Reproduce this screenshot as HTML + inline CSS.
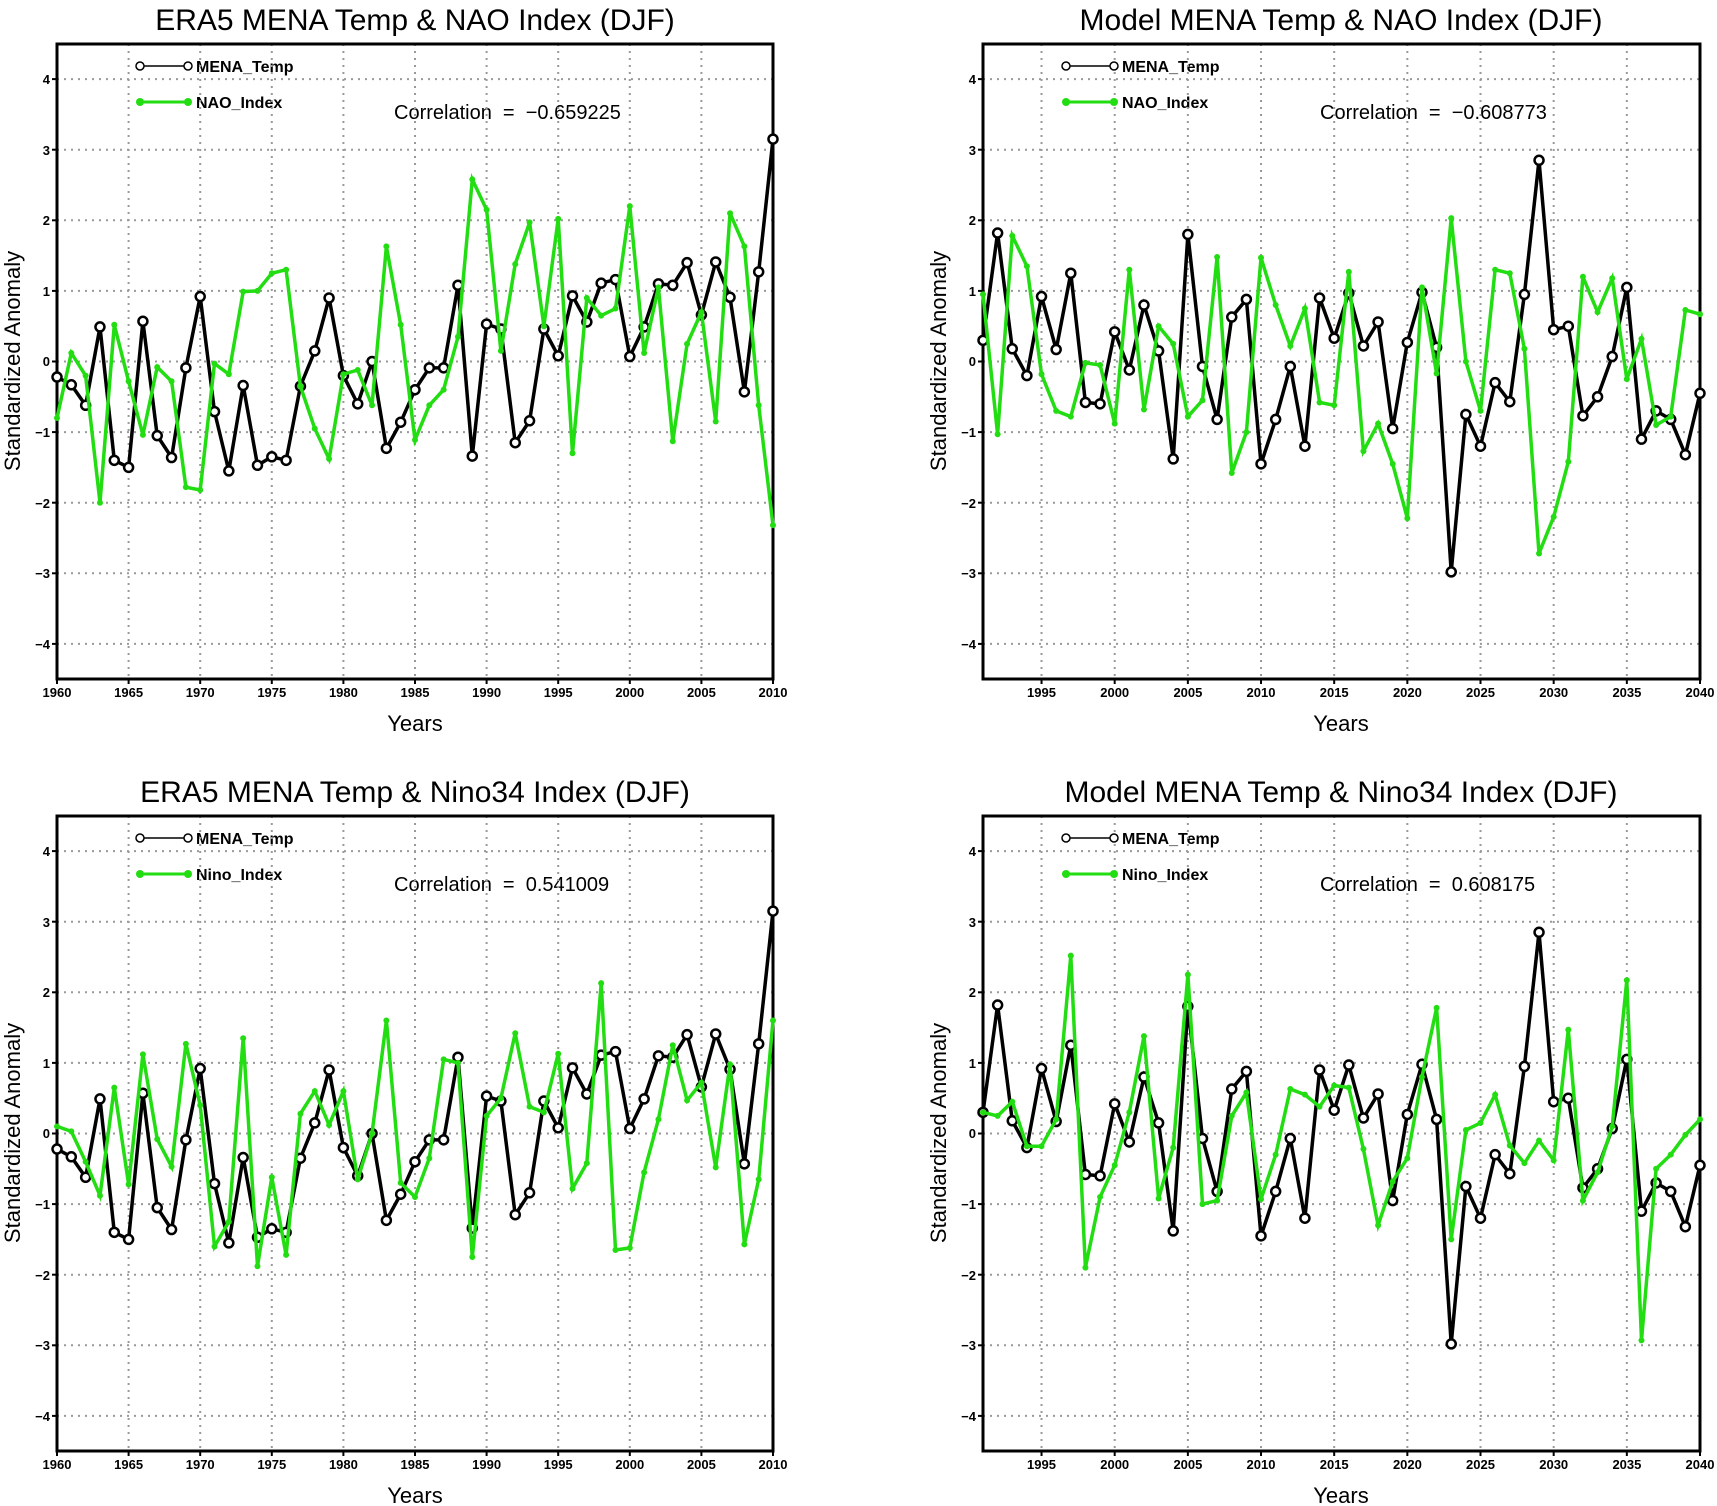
<!DOCTYPE html>
<html><head><meta charset="utf-8"><style>
body{margin:0;background:#fff}
svg{display:block}
text{font-family:"Liberation Sans",sans-serif}
.t{font-size:30px;text-anchor:middle}
.tk{font-size:13px;font-weight:bold;text-anchor:middle}
.yk{font-size:13px;font-weight:bold;text-anchor:end}
.ax{font-size:22px;text-anchor:middle}
.lg{font-size:16px;font-weight:bold}
.cr{font-size:20px;white-space:pre}
</style></head><body>
<svg id="s" width="1717" height="1506" xmlns="http://www.w3.org/2000/svg">
<g id="p0">
<text class="t" x="415" y="30">ERA5 MENA Temp &amp; NAO Index (DJF)</text>
<text class="lg" x="196" y="72">MENA_Temp</text><text class="lg" x="196" y="108">NAO_Index</text>
<text class="cr" x="394" y="119">Correlation  =  −0.659225</text>
<text class="ax" x="415" y="731">Years</text>
<text class="ax" transform="translate(20,361) rotate(-90)">Standardized Anomaly</text>
<g class="tk"><text x="57" y="697">1960</text><text x="128.6" y="697">1965</text><text x="200.2" y="697">1970</text><text x="271.8" y="697">1975</text><text x="343.4" y="697">1980</text><text x="415" y="697">1985</text><text x="486.6" y="697">1990</text><text x="558.2" y="697">1995</text><text x="629.8" y="697">2000</text><text x="701.4" y="697">2005</text><text x="773" y="697">2010</text></g>
<g class="yk"><text x="50" y="84">4</text><text x="50" y="155">3</text><text x="50" y="225">2</text><text x="50" y="296">1</text><text x="50" y="366">0</text><text x="50" y="437">−1</text><text x="50" y="508">−2</text><text x="50" y="578">−3</text><text x="50" y="649">−4</text></g>
</g>
<g id="p1">
<text class="t" x="1341" y="30">Model MENA Temp &amp; NAO Index (DJF)</text>
<text class="lg" x="1122" y="72">MENA_Temp</text><text class="lg" x="1122" y="108">NAO_Index</text>
<text class="cr" x="1320" y="119">Correlation  =  −0.608773</text>
<text class="ax" x="1341" y="731">Years</text>
<text class="ax" transform="translate(946,361) rotate(-90)">Standardized Anomaly</text>
<g class="tk"><text x="1041.5" y="697">1995</text><text x="1114.7" y="697">2000</text><text x="1187.9" y="697">2005</text><text x="1261" y="697">2010</text><text x="1334.2" y="697">2015</text><text x="1407.4" y="697">2020</text><text x="1480.5" y="697">2025</text><text x="1553.7" y="697">2030</text><text x="1626.9" y="697">2035</text><text x="1700" y="697">2040</text></g>
<g class="yk"><text x="976" y="84">4</text><text x="976" y="155">3</text><text x="976" y="225">2</text><text x="976" y="296">1</text><text x="976" y="366">0</text><text x="976" y="437">−1</text><text x="976" y="508">−2</text><text x="976" y="578">−3</text><text x="976" y="649">−4</text></g>
</g>
<g id="p2" transform="translate(0,772)">
<text class="t" x="415" y="30">ERA5 MENA Temp &amp; Nino34 Index (DJF)</text>
<text class="lg" x="196" y="72">MENA_Temp</text><text class="lg" x="196" y="108">Nino_Index</text>
<text class="cr" x="394" y="119">Correlation  =  0.541009</text>
<text class="ax" x="415" y="731">Years</text>
<text class="ax" transform="translate(20,361) rotate(-90)">Standardized Anomaly</text>
<g class="tk"><text x="57" y="697">1960</text><text x="128.6" y="697">1965</text><text x="200.2" y="697">1970</text><text x="271.8" y="697">1975</text><text x="343.4" y="697">1980</text><text x="415" y="697">1985</text><text x="486.6" y="697">1990</text><text x="558.2" y="697">1995</text><text x="629.8" y="697">2000</text><text x="701.4" y="697">2005</text><text x="773" y="697">2010</text></g>
<g class="yk"><text x="50" y="84">4</text><text x="50" y="155">3</text><text x="50" y="225">2</text><text x="50" y="296">1</text><text x="50" y="366">0</text><text x="50" y="437">−1</text><text x="50" y="508">−2</text><text x="50" y="578">−3</text><text x="50" y="649">−4</text></g>
</g>
<g id="p3" transform="translate(0,772)">
<text class="t" x="1341" y="30">Model MENA Temp &amp; Nino34 Index (DJF)</text>
<text class="lg" x="1122" y="72">MENA_Temp</text><text class="lg" x="1122" y="108">Nino_Index</text>
<text class="cr" x="1320" y="119">Correlation  =  0.608175</text>
<text class="ax" x="1341" y="731">Years</text>
<text class="ax" transform="translate(946,361) rotate(-90)">Standardized Anomaly</text>
<g class="tk"><text x="1041.5" y="697">1995</text><text x="1114.7" y="697">2000</text><text x="1187.9" y="697">2005</text><text x="1261" y="697">2010</text><text x="1334.2" y="697">2015</text><text x="1407.4" y="697">2020</text><text x="1480.5" y="697">2025</text><text x="1553.7" y="697">2030</text><text x="1626.9" y="697">2035</text><text x="1700" y="697">2040</text></g>
<g class="yk"><text x="976" y="84">4</text><text x="976" y="155">3</text><text x="976" y="225">2</text><text x="976" y="296">1</text><text x="976" y="366">0</text><text x="976" y="437">−1</text><text x="976" y="508">−2</text><text x="976" y="578">−3</text><text x="976" y="649">−4</text></g>
</g>
</svg>
<script>
var NS="http://www.w3.org/2000/svg";
function el(p,t,a){var e=document.createElementNS(NS,t);for(var k in a)e.setAttribute(k,a[k]);p.appendChild(e);return e;}
var eT=[-0.22,-0.33,-0.62,0.49,-1.4,-1.5,0.57,-1.05,-1.36,-0.09,0.92,-0.71,-1.55,-0.34,-1.47,-1.35,-1.4,-0.35,0.15,0.9,-0.2,-0.6,0.0,-1.23,-0.86,-0.4,-0.09,-0.09,1.08,-1.34,0.53,0.46,-1.15,-0.84,0.46,0.08,0.93,0.56,1.11,1.16,0.07,0.49,1.1,1.08,1.4,0.66,1.41,0.91,-0.43,1.27,3.15];
var eN=[-0.8,0.12,-0.2,-2.0,0.52,-0.28,-1.04,-0.08,-0.28,-1.78,-1.82,-0.03,-0.18,0.99,1.0,1.25,1.3,-0.35,-0.95,-1.38,-0.18,-0.12,-0.62,1.63,0.52,-1.11,-0.62,-0.4,0.35,2.58,2.15,0.15,1.38,1.97,0.5,2.02,-1.3,0.9,0.65,0.75,2.2,0.12,1.05,-1.13,0.25,0.7,-0.85,2.1,1.63,-0.62,-2.32];
var eI=[0.1,0.03,-0.4,-0.88,0.65,-0.72,1.12,-0.08,-0.47,1.27,0.4,-1.6,-1.25,1.35,-1.88,-0.62,-1.72,0.28,0.6,0.12,0.6,-0.65,0.0,1.6,-0.7,-0.9,-0.35,1.05,1.0,-1.75,0.25,0.5,1.42,0.38,0.3,1.13,-0.78,-0.42,2.13,-1.65,-1.62,-0.55,0.2,1.25,0.47,0.72,-0.48,0.98,-1.57,-0.65,1.6];
var mT=[0.3,1.82,0.18,-0.2,0.92,0.17,1.25,-0.58,-0.6,0.42,-0.12,0.8,0.15,-1.38,1.8,-0.07,-0.82,0.63,0.88,-1.45,-0.82,-0.07,-1.2,0.9,0.33,0.97,0.22,0.56,-0.95,0.27,0.98,0.2,-2.98,-0.75,-1.2,-0.3,-0.57,0.95,2.85,0.45,0.5,-0.77,-0.5,0.07,1.05,-1.1,-0.7,-0.82,-1.32,-0.45];
var mN=[0.95,-1.03,1.78,1.35,-0.18,-0.7,-0.78,-0.02,-0.05,-0.88,1.3,-0.68,0.5,0.25,-0.78,-0.55,1.48,-1.58,-1.0,1.47,0.8,0.22,0.75,-0.58,-0.62,1.27,-1.27,-0.88,-1.45,-2.22,1.05,-0.17,2.03,0.0,-0.7,1.3,1.25,0.18,-2.72,-2.2,-1.42,1.2,0.7,1.18,-0.25,0.32,-0.9,-0.78,0.73,0.67];
var mI=[0.3,0.25,0.45,-0.18,-0.18,0.2,2.52,-1.9,-0.9,-0.45,0.3,1.38,-0.92,-0.2,2.25,-1.0,-0.95,0.25,0.58,-0.93,-0.3,0.63,0.55,0.38,0.68,0.65,-0.22,-1.3,-0.68,-0.35,0.8,1.78,-1.5,0.05,0.15,0.55,-0.17,-0.42,-0.1,-0.38,1.47,-0.95,-0.55,0.1,2.17,-2.93,-0.5,-0.3,-0.02,0.2];
var G="#22dd11";
function panel(id,x0,x1,green){
 var g=document.getElementById(id),n=green.length,T=(n==51?eT:mT);
 var top=44,bot=679,Y=function(v){return 361.5-v*70.6},X=function(i){return x0+(x1-x0)*i/(n-1)};
 var first=(n==51?1960:1991);
 for(var v=-4;v<=4;v++)el(g,"line",{x1:x0,x2:x1,y1:Y(v),y2:Y(v),stroke:"#999","stroke-width":2,"stroke-dasharray":"2 5"});
 for(var i=0;i<n;i++){if((first+i)%5==0&&i>0&&i<n-1)el(g,"line",{x1:X(i),x2:X(i),y1:top,y2:bot,stroke:"#999","stroke-width":2,"stroke-dasharray":"2 5"});}
 for(var v=-4;v<=4;v++)el(g,"line",{x1:x0-5,x2:x0,y1:Y(v),y2:Y(v),stroke:"#000","stroke-width":2});
 for(var i=0;i<n;i++){if((first+i)%5==0)el(g,"line",{x1:X(i),x2:X(i),y1:bot,y2:bot+5,stroke:"#000","stroke-width":2});}
 el(g,"rect",{x:x0,y:top,width:x1-x0,height:bot-top,fill:"none",stroke:"#000","stroke-width":3});
 function pts(a){return a.map(function(v,i){return X(i).toFixed(1)+","+Y(v).toFixed(1)}).join(" ");}
 el(g,"polyline",{points:pts(T),fill:"none",stroke:"#000","stroke-width":3.5});
 T.forEach(function(v,i){el(g,"circle",{cx:X(i),cy:Y(v),r:4.5,fill:"#fff",stroke:"#000","stroke-width":2.5});});
 el(g,"polyline",{points:pts(green),fill:"none",stroke:G,"stroke-width":3.5});
 green.forEach(function(v,i){el(g,"circle",{cx:X(i),cy:Y(v),r:3,fill:G});});
 var lx=x0+83;
 el(g,"line",{x1:lx,x2:lx+48,y1:66,y2:66,stroke:"#000","stroke-width":1.5});
 el(g,"circle",{cx:lx,cy:66,r:4,fill:"#fff",stroke:"#000","stroke-width":1.5});
 el(g,"circle",{cx:lx+48,cy:66,r:4,fill:"#fff",stroke:"#000","stroke-width":1.5});
 el(g,"line",{x1:lx,x2:lx+48,y1:102,y2:102,stroke:G,"stroke-width":3});
 el(g,"circle",{cx:lx,cy:102,r:4,fill:G});el(g,"circle",{cx:lx+48,cy:102,r:4,fill:G});
}
panel("p0",57,773,eN);panel("p1",983,1700,mN);panel("p2",57,773,eI);panel("p3",983,1700,mI);
</script>
</body></html>
